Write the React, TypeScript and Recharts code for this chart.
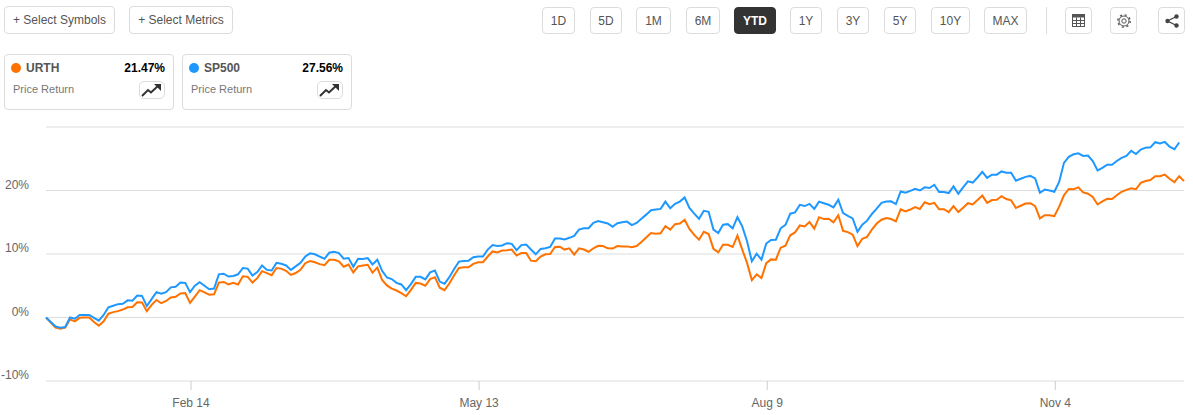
import React from 'react';
import { LineChart, Line, XAxis, YAxis, CartesianGrid } from 'recharts';

const urth = [
  0, -0.8, -1.6, -1.75, -1.6, -0.3, -0.6, -0.05, 0, 0,
  -0.7, -1.3, -0.6, 0.6, 0.85, 1.0, 1.25, 1.6, 1.65, 2.4,
  2.35, 1.0, 2.0, 2.75, 2.25, 2.6, 3.15, 3.25, 3.8, 3.85,
  2.3, 3.3, 4.3, 3.95, 3.6, 3.65, 5.5, 5.6, 5.2, 5.45,
  5.2, 6.5, 6.4, 5.5, 6.2, 7.3, 7.0, 6.65, 7.8, 7.7,
  7.35, 6.7, 7.0, 7.5, 8.55, 8.9, 8.7, 8.4, 8.25, 9.1,
  9.1, 8.85, 8.0, 8.35, 7.1, 8.05, 8.2, 8.3, 7.05, 7.85,
  5.9, 5.05, 4.55, 4.25, 3.85, 3.35, 4.35, 5.45, 5.35, 5.0,
  6.05, 6.35, 4.7, 4.3, 5.35, 6.65, 7.8, 7.9, 7.9, 8.45,
  8.7, 8.7, 9.6, 10.4, 10.25, 10.55, 10.6, 10.7, 9.75, 10.15,
  10.15, 8.95, 8.85, 9.6, 9.95, 10.0, 11.1, 11.15, 10.7, 10.9,
  9.9, 10.9, 10.7, 10.35, 10.9, 11.3, 11.25, 10.9, 10.85, 11.25,
  11.2, 11.2, 11.05, 11.25, 11.9, 12.6, 13.3, 13.2, 13.25, 14.4,
  13.85, 14.7, 14.8, 15.4, 13.95, 13.0, 12.25, 13.5, 13.15, 10.8,
  10.25, 11.45, 11.45, 11.1, 12.9, 10.7, 8.6, 5.9, 6.8, 6.2,
  8.55, 9.15, 9.1, 11.0, 11.3, 12.95, 13.4, 14.5, 14.35, 15.05,
  14.0, 15.8, 15.5, 15.55, 15.0, 16.1, 13.65, 13.45, 13.05, 11.25,
  12.4, 12.7, 13.85, 14.8, 15.4, 15.65, 15.5, 15.15, 17.05, 16.7,
  17.0, 17.4, 17.1, 18.15, 17.85, 18.05, 17.05, 17.05, 16.6, 17.55,
  16.6, 17.3, 18.0, 17.8, 18.5, 19.2, 18.05, 18.5, 18.55, 19.1,
  18.65, 18.45, 17.25, 17.6, 17.95, 18.0, 17.55, 15.6, 16.1, 16.1,
  15.95, 17.45, 19.25, 20.25, 20.2, 20.5, 19.7, 19.5, 19.0, 17.8,
  18.3, 18.7, 18.65, 19.25, 19.8, 20.1, 20.35, 20.2, 21.2, 21.5,
  21.65, 22.25, 22.25, 22.5, 21.85, 21.3, 22.25, 21.47,
];

const sp500 = [
  0, -0.7, -1.4, -1.6, -1.5, 0, -0.2, 0.4, 0.4, 0.4,
  -0.05, -0.5, 0.4, 1.6, 1.85, 2.1, 2.15, 2.7, 2.65, 3.45,
  3.4, 1.8, 2.9, 4.0, 3.75, 4.0, 4.75, 4.85, 5.5, 5.45,
  4.0, 5.0, 5.55, 5.0, 4.45, 4.55, 6.8, 6.9, 6.45, 6.55,
  6.8, 7.8, 7.7, 6.6, 7.15, 8.2, 7.5, 7.4, 8.6, 8.45,
  8.2, 7.5, 8.05, 8.6, 9.6, 10.1, 9.95, 9.6, 9.25, 10.2,
  10.35, 10.15, 9.25, 9.35, 8.0, 9.25, 9.2, 9.35, 8.35, 9.1,
  7.35, 6.3, 6.05, 5.45, 5.2, 4.3, 5.25, 6.4, 6.4, 6.0,
  7.1, 7.4, 5.65, 5.3, 6.35, 7.65, 8.8, 8.9, 8.95, 9.5,
  9.6, 9.6, 10.7, 11.4, 11.25, 11.35, 11.7, 11.6, 10.6, 11.4,
  11.5, 10.7, 9.95, 10.8, 10.9, 11.1, 12.45, 12.45, 12.3, 12.55,
  12.85, 13.85, 14.05, 14.05, 14.9, 15.2, 15.0, 14.8, 14.3, 14.85,
  15.0, 15.1, 14.55, 14.9, 15.55, 16.2, 16.9, 17.0, 17.1, 18.25,
  17.2, 17.9, 18.25, 18.9, 17.25, 16.35, 15.55, 16.8, 16.65, 13.85,
  13.3, 14.6, 14.7, 14.05, 15.8, 14.35, 12.0, 8.85, 10.05, 9.1,
  11.65, 12.2, 12.25, 14.05, 14.6, 16.35, 16.55, 17.75, 17.55, 17.9,
  17.1, 18.25, 18.0, 17.75, 17.35, 18.55, 16.45, 16.0, 15.6, 13.5,
  14.6, 15.25, 16.3, 17.15, 18.05, 18.25, 18.3, 17.85, 19.85, 19.65,
  19.95, 20.25, 20.0, 20.5, 20.4, 20.9, 19.75, 19.75, 19.6, 20.65,
  19.5, 20.5, 21.45, 21.25, 22.05, 22.95, 22.0, 22.5, 22.5, 23.0,
  22.8, 22.8, 21.55, 21.85, 22.15, 22.3, 21.9, 19.65, 20.15, 20.0,
  19.8, 21.35, 24.35, 25.3, 25.7, 25.85, 25.45, 25.5, 24.65, 23.15,
  23.55, 24.05, 24.05, 24.65, 25.15, 25.45, 26.25, 25.75, 26.45, 26.75,
  26.8, 27.6, 27.4, 27.65, 26.9, 26.5, 27.56,
];

// the date ticks sit a touch right of the nearest sampled point
const dateTickIndex = [30.2, 90.2, 150.2, 210.2];
const dateTickLabels = ['Feb 14', 'May 13', 'Aug 9', 'Nov 4'];
const percentTicks = [-10, 0, 10, 20, 30];

const rangeButtons: [string, number, number][] = [
  ['1D', 542, 33], ['5D', 590, 32], ['1M', 636, 35], ['6M', 686, 34], ['YTD', 734, 42],
  ['1Y', 790, 32], ['3Y', 837, 32], ['5Y', 884, 32], ['10Y', 931, 39], ['MAX', 984, 43],
];

const tableData = urth.map((value, i) => ({ idx: i, urth: value, sp500: sp500[i] }));

const FONT = '"Liberation Sans", Arial, sans-serif';
const BORDER = '1px solid #dcdcdc';

const Box: React.FC<{ x: number; y: number; w: number; h: number; dark?: boolean; children?: React.ReactNode }> = ({ x, y, w, h, dark, children }) => (
  <div
    style={{
      position: 'absolute', left: x, top: y, width: w, height: h, boxSizing: 'border-box',
      border: dark ? '1px solid #333' : BORDER, borderRadius: 4, background: dark ? '#333' : '#fff',
      color: dark ? '#fff' : '#555', fontSize: 12, display: 'flex', alignItems: 'center', justifyContent: 'center',
      fontWeight: dark ? 700 : 400,
    }}
  >
    {children}
  </div>
);

const TrendIcon = () => (
  <svg width="22" height="14" viewBox="0 0 22 14">
    <path d="M1 13 L7 7 L10 9.5 L18 2" fill="none" stroke="#333" strokeWidth="2" />
    <path d="M13 1 L20 1 L20 8 Z" fill="#333" />
  </svg>
);

const Card: React.FC<{ x: number; name: string; value: string; color: string }> = ({ x, name, value, color }) => (
  <div style={{ position: 'absolute', left: x, top: 54, width: 170, height: 56, boxSizing: 'border-box', border: BORDER, borderRadius: 4 }}>
    <div style={{ position: 'absolute', left: 6, top: 8, width: 10, height: 10, borderRadius: 5, background: color }} />
    <div style={{ position: 'absolute', left: 21, top: 6, fontSize: 12, fontWeight: 700, color: '#555' }}>{name}</div>
    <div style={{ position: 'absolute', right: 8, top: 6, fontSize: 12, fontWeight: 700, color: '#000' }}>{value}</div>
    <div style={{ position: 'absolute', left: 8, top: 28, fontSize: 11, color: '#777' }}>Price Return</div>
    <div style={{ position: 'absolute', left: 134, top: 26, width: 26, height: 18, boxSizing: 'border-box', border: BORDER, borderRadius: 5, display: 'flex', alignItems: 'center', justifyContent: 'center' }}>
      <TrendIcon />
    </div>
  </div>
);

const PercentTick = (props: any) => {
  const { x, y, payload } = props;
  if (payload.value === 30) return <g />;
  return (
    <text x={x - 9} y={y - 6} dy={4} textAnchor="end" fontSize={12} fill="#666" fontFamily={FONT}>
      {payload.value}%
    </text>
  );
};

export default function App() {
  return (
    <div style={{ position: 'absolute', left: 0, top: 0, width: 1193, height: 415, background: '#fff', fontFamily: FONT }}>
      <Box x={4} y={6} w={111} h={28}>+ Select Symbols</Box>
      <Box x={129} y={6} w={104} h={28}>+ Select Metrics</Box>

      {rangeButtons.map(([label, x, w]) => (
        <Box key={label} x={x} y={7} w={w} h={27} dark={label === 'YTD'}>{label}</Box>
      ))}
      <div style={{ position: 'absolute', left: 1046, top: 7, width: 1, height: 27, background: '#ddd' }} />
      <Box x={1065} y={7} w={27} h={27}>
        <svg width="13" height="13" viewBox="0 0 13 13">
          <rect x="0.5" y="0.5" width="12" height="12" fill="none" stroke="#555" />
          <rect x="0.5" y="0.5" width="12" height="3" fill="#555" />
          <path d="M4.5 3.5 V12.5 M8.5 3.5 V12.5 M0.5 6.5 H12.5 M0.5 9.5 H12.5" stroke="#555" />
        </svg>
      </Box>
      <Box x={1110} y={7} w={27} h={27}>
        <svg width="14" height="14" viewBox="0 0 14 14">
          <circle cx="7" cy="7" r="2.2" fill="none" stroke="#555" />
          <circle cx="7" cy="7" r="5" fill="none" stroke="#555" strokeWidth="1" />
          <circle cx="7" cy="7" r="6.2" fill="none" stroke="#555" strokeWidth="1.4" strokeDasharray="2 2.87" />
        </svg>
      </Box>
      <Box x={1158} y={7} w={27} h={27}>
        <svg width="14" height="14" viewBox="0 0 14 14">
          <path d="M11.5 2.5 L2.5 7 L11.5 11.5" fill="none" stroke="#444" strokeWidth="1.3" />
          <circle cx="11.5" cy="2.5" r="2.2" fill="#444" />
          <circle cx="2.5" cy="7" r="2.2" fill="#444" />
          <circle cx="11.5" cy="11.5" r="2.2" fill="#444" />
        </svg>
      </Box>

      <Card x={4} name="URTH" value="21.47%" color="#ff7200" />
      <Card x={182} name="SP500" value="27.56%" color="#1e98ff" />

      <div style={{ position: 'absolute', left: 0, top: 0 }}>
        <LineChart width={1193} height={415} data={tableData} margin={{ top: 127, right: 9, bottom: 0, left: 0 }}>
          <CartesianGrid vertical={false} stroke="#dcdcdc" />
          <XAxis
            dataKey="idx"
            type="number"
            domain={[0, 237]}
            ticks={dateTickIndex}
            tickFormatter={(v: number) => dateTickLabels[dateTickIndex.indexOf(v)]}
            height={34}
            axisLine={false}
            tickLine={{ stroke: '#ccc' }}
            tickSize={9}
            tickMargin={8}
            tick={{ fontSize: 12, fill: '#666', fontFamily: FONT }}
          />
          <YAxis
            type="number"
            domain={[-10, 30]}
            ticks={percentTicks}
            width={46}
            axisLine={false}
            tickLine={false}
            tick={<PercentTick />}
          />
          <Line dataKey="urth" type="linear" stroke="#ff7200" strokeWidth={2} dot={false} isAnimationActive={false} />
          <Line dataKey="sp500" type="linear" stroke="#1e98ff" strokeWidth={2} dot={false} isAnimationActive={false} />
        </LineChart>
      </div>
    </div>
  );
}
